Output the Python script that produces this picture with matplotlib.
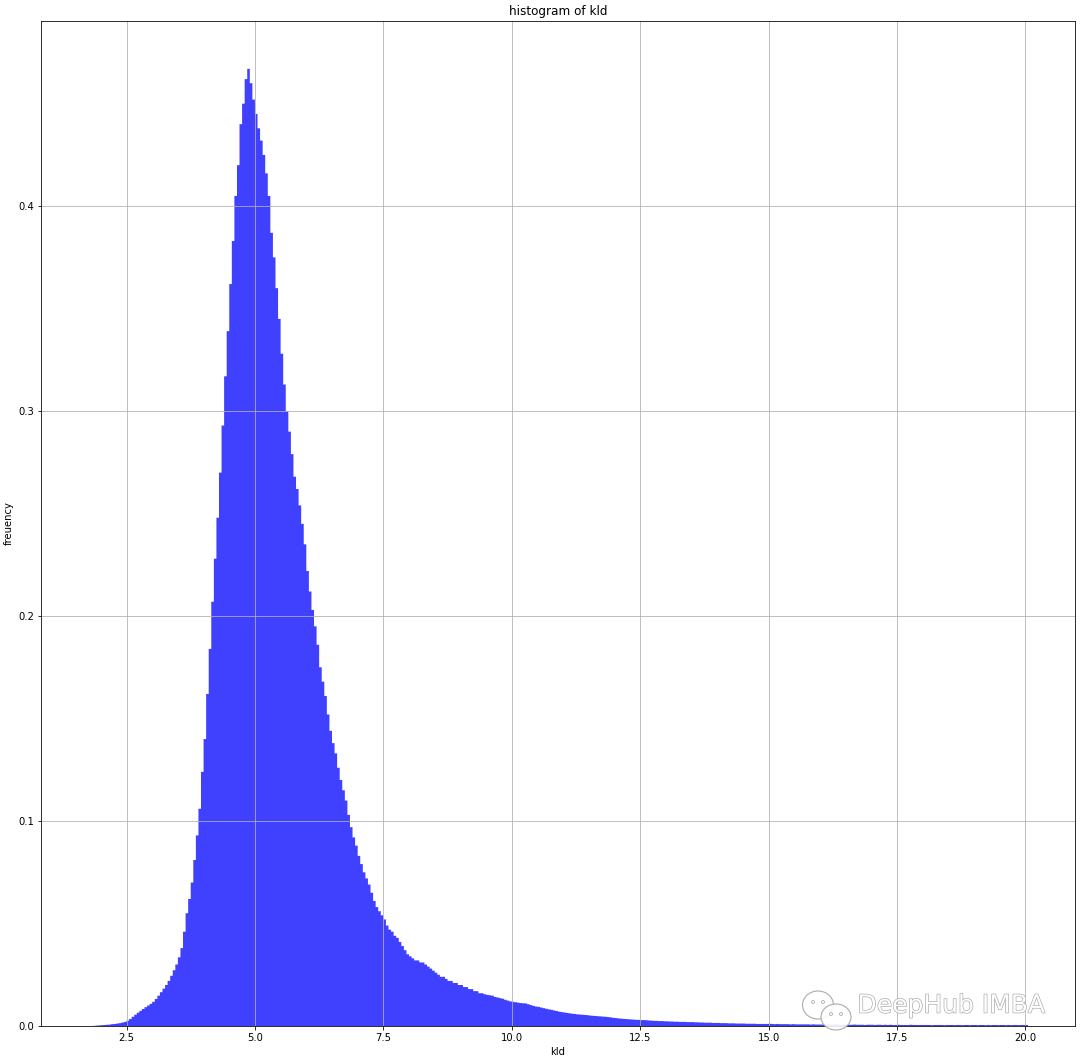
import numpy as np
import matplotlib
matplotlib.use('Agg')
import matplotlib.pyplot as plt
import matplotlib.patches as patches
import matplotlib.patheffects as pe

# --- DADOS (densidade por faixa de 0.05 em kld) ---
KLD_MIN, KLD_MAX = 1.75, 20.05

cauda_esq = [0.0, 0.0, 0.0001, 0.0002, 0.0003, 0.0004, 0.0005, 0.0006, 0.0007, 0.0009,
             0.0010, 0.0012, 0.0014, 0.0017, 0.0020, 0.0026, 0.0034, 0.0045, 0.0055, 0.0065,
             0.0074, 0.0083, 0.0092, 0.0100, 0.0108]

subida = [0.0118, 0.0132, 0.0148, 0.0165, 0.0182, 0.0200, 0.0220, 0.0245, 0.0272, 0.0300,
          0.0335, 0.038, 0.046, 0.055, 0.062, 0.070, 0.081, 0.093, 0.106, 0.124,
          0.140, 0.162, 0.184, 0.207, 0.228, 0.248, 0.270, 0.293, 0.317, 0.339,
          0.362, 0.383, 0.405, 0.420, 0.440, 0.450, 0.462, 0.467, 0.460, 0.452]

descida = [0.445, 0.438, 0.432, 0.425, 0.416, 0.405, 0.387, 0.375, 0.360, 0.345,
           0.328, 0.313, 0.300, 0.290, 0.279, 0.268, 0.262, 0.254, 0.245, 0.235,
           0.222, 0.212, 0.203, 0.195, 0.186, 0.175, 0.168, 0.161, 0.152, 0.144,
           0.138, 0.133, 0.126, 0.120, 0.115, 0.110, 0.103, 0.097, 0.092, 0.088,
           0.083, 0.079, 0.075, 0.072, 0.069, 0.065, 0.061, 0.058, 0.056, 0.054]

cauda_meio = [0.052, 0.049, 0.047, 0.046, 0.044, 0.043, 0.041, 0.039, 0.037, 0.035,
              0.034, 0.033, 0.032, 0.032, 0.031, 0.031, 0.030, 0.029, 0.028, 0.027,
              0.026, 0.025, 0.024, 0.024, 0.023, 0.022, 0.022, 0.021, 0.021, 0.020,
              0.020, 0.019, 0.019, 0.018, 0.018, 0.017, 0.017, 0.016, 0.016, 0.0155,
              0.0152, 0.0150, 0.0148, 0.0142, 0.0139, 0.0136, 0.0133, 0.0128, 0.0124, 0.0120]

cauda_dir = [0.0118, 0.0116, 0.0114, 0.0112, 0.0111, 0.0110, 0.0106, 0.0102, 0.0098, 0.0095,
             0.0093, 0.0090, 0.0087, 0.0084, 0.0081, 0.0079, 0.0076, 0.0073, 0.0070, 0.0068,
             0.0066, 0.0064, 0.0062, 0.0060, 0.0059, 0.0057, 0.0056, 0.0055, 0.0054, 0.0053,
             0.0051, 0.0050, 0.0049, 0.0048, 0.0047, 0.0046, 0.0045, 0.0044, 0.0042, 0.0040,
             0.0039, 0.0037, 0.0036, 0.0035, 0.0034, 0.0033, 0.0032, 0.0031, 0.0030, 0.0030,
             0.0029, 0.0029, 0.0028, 0.0027, 0.0026, 0.0025, 0.0025, 0.0024, 0.0024, 0.0023,
             0.0023, 0.0022, 0.0022, 0.0021, 0.0021, 0.0020, 0.0020, 0.0020, 0.0019, 0.0019]

cauda_longa = [0.0019, 0.0018, 0.0018, 0.0017, 0.0017, 0.0016, 0.0016, 0.0016, 0.0015, 0.0015,
               0.0015, 0.0014, 0.0014, 0.0014, 0.0013, 0.0013, 0.0013, 0.0012, 0.0012, 0.0012,
               0.0012, 0.0011, 0.0011, 0.0011, 0.0011, 0.0010, 0.0010, 0.0010, 0.0010, 0.0010,
               0.0011, 0.0010, 0.0009, 0.0010, 0.0009, 0.0009, 0.0009, 0.0009, 0.0008, 0.0009,
               0.0008, 0.0008, 0.0008, 0.0008, 0.0008, 0.0008, 0.0007, 0.0008, 0.0007, 0.0007,
               0.0007, 0.0007, 0.0007, 0.0007, 0.0007, 0.0006, 0.0007, 0.0006, 0.0006, 0.0006,
               0.0006, 0.0006, 0.0006, 0.0007, 0.0006, 0.0006, 0.0006, 0.0005, 0.0006, 0.0006,
               0.0006, 0.0005, 0.0006, 0.0006, 0.0005, 0.0006, 0.0005, 0.0006, 0.0005, 0.0005,
               0.0006, 0.0005, 0.0005, 0.0005, 0.0005, 0.0006, 0.0005, 0.0005, 0.0005, 0.0005,
               0.0005, 0.0005, 0.0005, 0.0004, 0.0005, 0.0005, 0.0005, 0.0005, 0.0004, 0.0005,
               0.0005, 0.0005, 0.0004, 0.0005, 0.0005, 0.0004, 0.0005, 0.0005, 0.0004, 0.0005,
               0.0005, 0.0004, 0.0005, 0.0005, 0.0004, 0.0005, 0.0004, 0.0005, 0.0005, 0.0004,
               0.0005, 0.0005, 0.0004, 0.0005, 0.0004, 0.0005, 0.0005, 0.0004, 0.0005, 0.0005,
               0.0005]

densidade = np.array(cauda_esq + subida + descida + cauda_meio + cauda_dir + cauda_longa)
bordas = np.linspace(KLD_MIN, KLD_MAX, len(densidade) + 1)
centros = (bordas[:-1] + bordas[1:]) / 2

# --- FIGURA ---
fig = plt.figure(figsize=(15, 14.75), dpi=72)
ax = fig.add_axes([41 / 1080, 1 - 1026 / 1062, (1075 - 41) / 1080, (1026 - 21) / 1062])

ax.hist(centros, bins=bordas, weights=densidade, histtype='stepfilled',
        facecolor='blue', alpha=0.75)
ax.grid(True)
ax.set_title('histogram of kld')
ax.set_xlabel('kld')
ax.set_ylabel('freuency')

# marca d'água
fig.text(0.794, 0.0465, 'DeepHub IMBA', fontsize=25, color='white',
         path_effects=[pe.withStroke(linewidth=1.3, foreground='#a8a8a8')])
for cx, cy, w, h in [(818, 1005, 31, 28), (836, 1017, 30, 26)]:
    fig.patches.append(patches.Ellipse((cx / 1080, 1 - cy / 1062), w / 1080, h / 1062,
                                       transform=fig.transFigure, fc='white',
                                       ec='#a8a8a8', lw=1.2, alpha=0.9))
    for dx in (-5, 5):
        fig.patches.append(patches.Circle(((cx + dx) / 1080, 1 - (cy - 3) / 1062), 1.5 / 1080,
                                          transform=fig.transFigure, fc='white',
                                          ec='#a8a8a8', lw=0.8))

fig.savefig('out.png', dpi=72)
